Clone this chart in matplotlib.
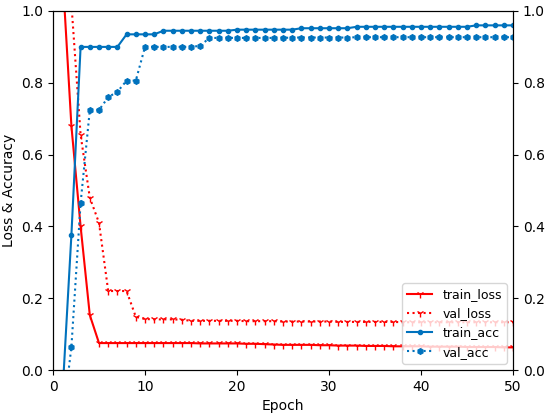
import matplotlib
matplotlib.use("Agg")
import matplotlib.pyplot as plt
import numpy as np

epochs = list(range(1, 51))

train_loss = [1.12, 0.68, 0.40, 0.153, 0.075, 0.075, 0.075, 0.075, 0.075, 0.075,
              0.075, 0.075, 0.075, 0.075, 0.075, 0.074, 0.074, 0.074, 0.074, 0.074,
              0.073, 0.073, 0.072, 0.071, 0.070, 0.070, 0.070, 0.070, 0.069, 0.069,
              0.068, 0.068, 0.068, 0.067, 0.067, 0.067, 0.066, 0.066, 0.066, 0.066,
              0.065, 0.065, 0.065, 0.065, 0.064, 0.064, 0.064, 0.064, 0.063, 0.063]
val_loss = [1.30, 1.02, 0.655, 0.48, 0.41, 0.22, 0.22, 0.22, 0.148, 0.142,
            0.141, 0.141, 0.141, 0.140, 0.137, 0.137, 0.137, 0.137, 0.137, 0.137,
            0.136, 0.136, 0.136, 0.136, 0.135, 0.135, 0.135, 0.135, 0.135, 0.135,
            0.134, 0.134, 0.134, 0.134, 0.134, 0.134, 0.134, 0.133, 0.133, 0.133,
            0.133, 0.133, 0.133, 0.133, 0.133, 0.133, 0.133, 0.133, 0.133, 0.133]
train_acc = [-0.08, 0.376, 0.90, 0.90, 0.90, 0.90, 0.90, 0.935, 0.935, 0.935,
             0.935, 0.945, 0.945, 0.945, 0.945, 0.945, 0.945, 0.945, 0.945, 0.948,
             0.948, 0.948, 0.948, 0.948, 0.948, 0.948, 0.952, 0.952, 0.952, 0.952,
             0.952, 0.952, 0.956, 0.956, 0.956, 0.956, 0.956, 0.956, 0.956, 0.956,
             0.956, 0.956, 0.956, 0.956, 0.956, 0.960, 0.960, 0.960, 0.960, 0.960]
val_acc = [-0.15, 0.064, 0.465, 0.724, 0.724, 0.76, 0.775, 0.806, 0.806, 0.90,
           0.90, 0.90, 0.90, 0.90, 0.90, 0.903, 0.925, 0.925, 0.925, 0.925,
           0.925, 0.925, 0.925, 0.925, 0.925, 0.926, 0.926, 0.926, 0.926, 0.926,
           0.926, 0.926, 0.927, 0.927, 0.927, 0.927, 0.927, 0.927, 0.927, 0.927,
           0.927, 0.927, 0.927, 0.927, 0.927, 0.927, 0.927, 0.927, 0.927, 0.927]

red = "#ff0000"
blue = "#0072BD"

fig = plt.figure(figsize=(5.5, 4.16), dpi=100)
ax = fig.add_axes([53/550, 1-370/416, (513-53)/550, (370-11)/416])
ax.plot(epochs, train_loss, color=red, ls="-", marker="1", ms=6, lw=1.5, label="train_loss")
ax.plot(epochs, val_loss, color=red, ls=":", marker="1", ms=6, lw=1.5, label="val_loss")
ax.plot(epochs, train_acc, color=blue, ls="-", marker=".", ms=6, lw=1.5, label="train_acc")
ax.plot(epochs, val_acc, color=blue, ls=":", marker="h", ms=4, lw=1.5, label="val_acc")
ax.set_xlim(0, 50)
ax.set_ylim(0, 1)
ax.set_xlabel("Epoch")
ax.set_ylabel("Loss & Accuracy")
ax2 = ax.twinx()
ax2.set_ylim(0, 1)
ax.legend(loc="lower right", fontsize=9)
fig.savefig("out.png", dpi=100)
